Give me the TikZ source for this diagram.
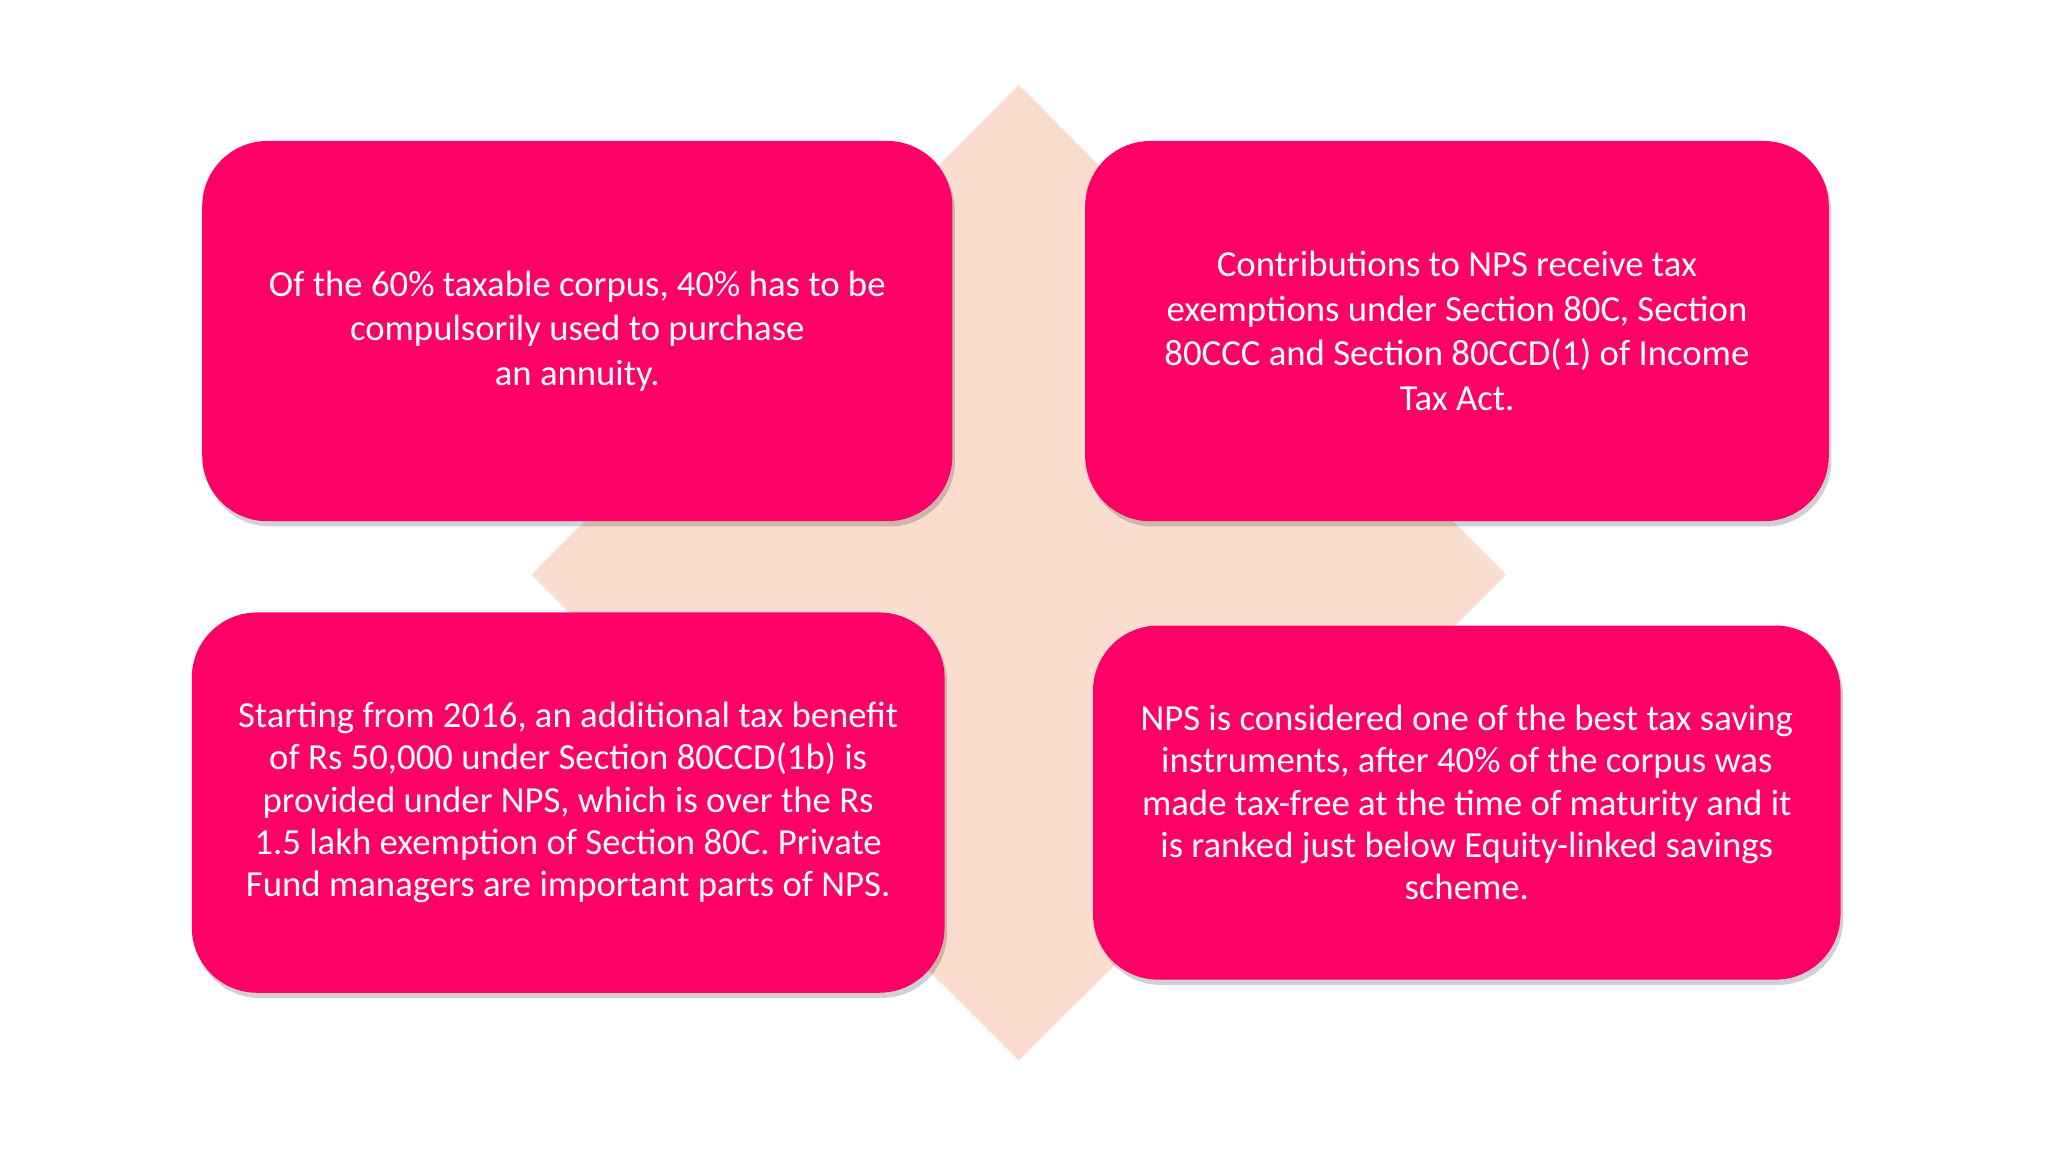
\documentclass[tikz,border=0pt]{standalone}
\usepackage{fontspec}
\setmainfont{Carlito}
\usetikzlibrary{shadows}
\definecolor{pinkbox}{HTML}{FF0066}
\definecolor{peach}{HTML}{FBDDD0}
\tikzset{
infobox/.style={rectangle,rounded corners=0.5cm,fill=pinkbox,text=white,align=center,
  font=\fontsize{8pt}{9.7pt}\selectfont,
  drop shadow={shadow xshift=0.02cm,shadow yshift=-0.04cm,fill=black,opacity=0.18}}
}
\begin{document}
\begin{tikzpicture}
[x=0.01cm,y=-0.01cm]
\useasboundingbox (0,0) rectangle (1568,882);
\fill[white] (0,0) rectangle (1568,882);

% diamond behind the boxes
\fill[peach] (780,65) -- (1153,440) -- (780,812) -- (407,440) -- cycle;

\node[infobox,minimum width=5.74cm,minimum height=2.91cm] (tl) at (442,253.5)
{Of the 60\% taxable corpus, 40\% has to be\\compulsorily used to purchase\\an annuity.};
\node[infobox,minimum width=5.69cm,minimum height=2.91cm] (tr) at (1115.5,253.5)
{Contributions to NPS receive tax\\exemptions under Section 80C, Section\\80CCC and Section 80CCD(1) of Income\\Tax Act.};
\node[infobox,minimum width=5.76cm,minimum height=2.91cm,font=\fontsize{8pt}{9.2pt}\selectfont] (bl) at (435,614.5)
{Starting from 2016, an additional tax benefit\\of Rs 50,000 under Section 80CCD(1b) is\\provided under NPS, which is over the Rs\\1.5 lakh exemption of Section 80C. Private\\Fund managers are important parts of NPS.};
\node[infobox,minimum width=5.72cm,minimum height=2.71cm,font=\fontsize{8pt}{9.2pt}\selectfont] (br) at (1123,614.5)
{NPS is considered one of the best tax saving\\instruments, after 40\% of the corpus was\\made tax-free at the time of maturity and it\\is ranked just below Equity-linked savings\\scheme.};
\end{tikzpicture}
\end{document}
